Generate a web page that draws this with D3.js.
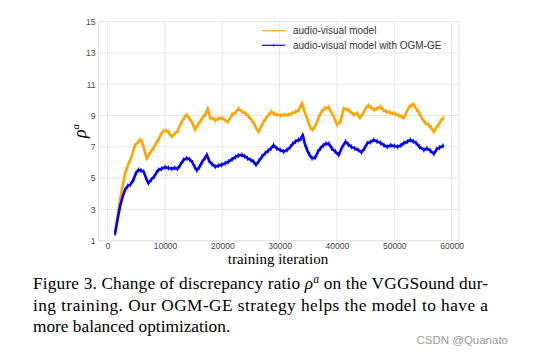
<!DOCTYPE html>
<html><head><meta charset="utf-8">
<script src="https://cdn.jsdelivr.net/npm/d3@7"></script>
<style>
body{margin:0;background:#fff;} svg{display:block;}
.serif{font-family:"Liberation Serif","Times New Roman",Times,serif;}
.sans{font-family:"Liberation Sans",Arial,Helvetica,sans-serif;}
</style>
</head><body>
<svg id="chart" width="543" height="356"></svg>
<script>
const seriesNames = ["audio-visual model", "audio-visual model with OGM-GE"];
const seriesColors = ["#FFA500", "#0000FF"];
const xTicks = [0, 10000, 20000, 30000, 40000, 50000, 60000];
const yTicks = [1, 3, 5, 7, 9, 11, 13, 15];

const avIter = [1300,1700,2150,2600,3040,3500,4000,4770,5300,5650,6000,6400,6820,7200,7550,7970,8400,8850,9300,9720,10200,10700,11190,11700,12200,12500,12940,13400,13810,14300,14800,15260,15700,16100,16600,17100,17480,17900,18400,18800,19300,19930,20500,21000,21680,22300,22830,23400,24000,24580,25100,25500,25900,26330,26800,27200,27600,28080,28600,29100,29540,30200,30800,31500,32170,32800,33300,33920,34300,34800,35370,35800,36300,36820,37400,37900,38570,39000,39500,40040,40600,41190,41700,42200,42940,43500,44000,44500,44980,45500,46000,46500,47000,47600,48100,48600,49200,49650,50200,50800,51200,51680,52100,52600,53000,53430,53900,54300,54800,55470,56000,56500,56920,57300,57700,58100,58560];
const avVals = [1.6,2.6,3.6,4.5,5.3,5.8,6.2,7.1,7.3,7.45,7.3,6.8,6.25,6.5,6.7,6.9,7.2,7.45,7.8,8.0,8.05,7.9,7.65,7.85,8.0,8.3,8.6,8.9,9.05,8.8,8.5,8.1,8.4,8.6,8.9,9.1,9.45,8.85,8.8,8.7,8.8,8.85,8.7,8.6,9.05,9.2,9.45,9.25,9.15,8.95,8.7,8.5,8.2,7.95,8.3,8.6,8.8,9.05,9.25,9.1,9.05,9.0,9.05,9.05,9.15,9.25,9.35,9.8,9.3,8.8,8.2,8.1,8.4,8.9,9.3,9.45,9.55,9.2,8.9,8.4,8.6,9.45,9.4,9.3,9.05,9.15,8.85,9.1,9.45,9.65,9.5,9.35,9.45,9.55,9.35,9.25,9.2,9.15,9.1,9.0,8.95,8.85,9.2,9.55,9.65,9.7,9.4,9.2,8.85,8.5,8.4,8.2,7.95,8.2,8.4,8.65,8.85];

const ogmIter = [1300,1700,2150,2600,3020,3500,4000,4480,4900,5350,5800,6300,6700,7100,7600,8100,8500,8850,9400,10000,10600,11190,11700,12200,12700,13220,13800,14300,14800,15200,15560,16000,16500,17000,17310,17700,18200,18760,19300,19900,20500,21080,21700,22300,22800,23430,23900,24400,25000,25460,25900,26400,26920,27500,28000,28500,28950,29500,30100,30700,31300,31900,32300,32750,33300,33700,34030,34400,34800,35200,35660,36200,36700,37110,37600,38100,38600,39100,39700,40310,40800,41490,42000,42500,43100,43700,44300,44800,45280,45800,46430,47000,47600,48200,48780,49400,50000,50600,51200,51700,52270,52800,53300,53800,54400,55170,55700,56300,56920,57400,57900,58500];
const ogmVals = [1.47,2.3,3.17,3.8,4.24,4.5,4.6,4.88,5.3,5.52,5.5,5.4,5.0,4.67,4.9,5.1,5.35,5.52,5.6,5.7,5.65,5.6,5.65,5.6,5.85,6.16,6.27,6.2,6.0,5.7,5.5,5.7,6.05,6.3,6.5,6.1,5.9,5.73,5.8,5.85,5.95,6.05,6.2,6.35,6.45,6.48,6.4,6.27,6.15,6.05,5.85,6.1,6.37,6.6,6.75,6.9,7.1,6.9,6.8,6.69,6.8,7.0,7.2,7.33,7.44,7.5,7.76,7.2,6.8,6.5,6.27,6.3,6.7,6.9,7.1,7.2,7.2,6.9,6.7,6.48,6.9,7.33,7.15,7.0,6.9,6.8,6.65,6.9,7.23,7.3,7.44,7.35,7.25,7.1,7.0,7.1,7.05,7.0,7.1,7.25,7.33,7.44,7.35,7.25,7.0,6.8,6.9,6.75,6.55,6.85,6.95,7.06];

(function draw() {
const series = [
  {name: seriesNames[0], color: seriesColors[0], data: avIter.map((d,i)=>[d, avVals[i]])},
  {name: seriesNames[1], color: seriesColors[1], data: ogmIter.map((d,i)=>[d, ogmVals[i]])}
];

const svg = d3.select("#chart");
const pLeft = 98.5, pRight = 459, pTop = 21.7, pBottom = 240.7;
const x = d3.scaleLinear().domain([-1600, 61300]).range([pLeft, pRight]);
const y = d3.scaleLinear().domain([1, 15]).range([pBottom, pTop]);
const gridColor = "#e6e6e6";

svg.append("g").selectAll("line").data(xTicks).join("line")
  .attr("x1", d=>x(d)).attr("x2", d=>x(d)).attr("y1", pTop).attr("y2", pBottom)
  .attr("stroke", gridColor).attr("stroke-width", 1);
svg.append("g").selectAll("line").data(yTicks).join("line")
  .attr("x1", pLeft).attr("x2", pRight).attr("y1", d=>y(d)).attr("y2", d=>y(d))
  .attr("stroke", gridColor).attr("stroke-width", 1);
svg.append("rect").attr("x", pLeft).attr("y", pTop).attr("width", pRight-pLeft).attr("height", pBottom-pTop)
  .attr("fill", "none").attr("stroke", gridColor).attr("stroke-width", 1);

const xAxis = d3.axisBottom(x).tickValues(xTicks).tickSize(0).tickPadding(2.5).tickFormat(d3.format("d"));
const gx = svg.append("g").attr("transform", `translate(0,${pBottom})`).call(xAxis).attr("font-family", null);
gx.select(".domain").remove();
gx.selectAll("text").attr("class", "sans").style("font-size", "8.5px").attr("fill", "#444");
const yAxis = d3.axisLeft(y).tickValues(yTicks).tickSize(0).tickPadding(3).tickFormat(d3.format("d"));
const gy = svg.append("g").attr("transform", `translate(${pLeft},0)`).call(yAxis).attr("font-family", null);
gy.select(".domain").remove();
gy.selectAll("text").attr("class", "sans").style("font-size", "8.5px").attr("fill", "#444");

const line = d3.line().x(d=>x(d[0])).y(d=>y(d[1]));
series.forEach(s => {
  svg.append("path").datum(s.data).attr("d", line)
    .attr("fill", "none").attr("stroke", s.color).attr("stroke-width", 2.6)
    .attr("stroke-linejoin", "round").attr("stroke-linecap", "round");
  svg.append("g").selectAll("line").data(s.data).join("line")
    .attr("x1", d=>x(d[0])).attr("x2", d=>x(d[0]))
    .attr("y1", d=>y(d[1])-2.5).attr("y2", d=>y(d[1])+2.5)
    .attr("stroke", s.color).attr("stroke-width", 1);
});

const lg = svg.append("g");
series.forEach((s, i) => {
  const ly = 30.7 + i*14.6;
  lg.append("line").attr("x1", 262).attr("x2", 285).attr("y1", ly).attr("y2", ly)
    .attr("stroke", s.color).attr("stroke-width", 1.2);
  lg.append("line").attr("x1", 273.5).attr("x2", 273.5).attr("y1", ly-1.3).attr("y2", ly+1.3)
    .attr("stroke", s.color).attr("stroke-width", 0.7);
  lg.append("text").attr("x", 293).attr("y", ly + 3.6).text(s.name)
    .attr("class", "sans").style("font-size", "10px").attr("fill", "#333");
});

svg.append("text").attr("x", 278).attr("y", 264).attr("text-anchor", "middle")
  .attr("class", "serif").style("font-size", "15px").attr("fill", "#000")
  .text("training iteration");
const yl = svg.append("text").attr("transform", "translate(86,131) rotate(-90)")
  .attr("text-anchor", "middle").attr("class", "serif").style("font-style", "italic")
  .style("font-size", "18px").attr("fill", "#000");
yl.append("tspan").text("ρ");
yl.append("tspan").attr("dy", -7).style("font-size", "11px").text("a");

const capSize = "17.3px";
const c1 = svg.append("text").attr("x", 33).attr("y", 289).attr("class", "serif").style("font-size", capSize)
  .attr("textLength", 455).attr("lengthAdjust", "spacing");
c1.append("tspan").text("Figure 3. Change of discrepancy ratio ");
c1.append("tspan").style("font-style", "italic").text("ρ");
c1.append("tspan").style("font-style", "italic").style("font-size", "11.5px").attr("dy", -6.5).text("a");
c1.append("tspan").attr("dy", 6.5).text(" on the VGGSound dur-");
svg.append("text").attr("x", 33).attr("y", 310.7).attr("class", "serif").style("font-size", capSize)
  .attr("textLength", 455).attr("lengthAdjust", "spacing")
  .text("ing training.  Our OGM-GE strategy helps the model to have a");
svg.append("text").attr("x", 33).attr("y", 332).attr("class", "serif").style("font-size", capSize)
  .text("more balanced optimization.");

svg.append("text").attr("x", 508).attr("y", 343.5).attr("text-anchor", "end")
  .attr("class", "sans").style("font-size", "11.5px").attr("fill", "#999")
  .text("CSDN @Quanato");
})();
</script>
</body></html>
